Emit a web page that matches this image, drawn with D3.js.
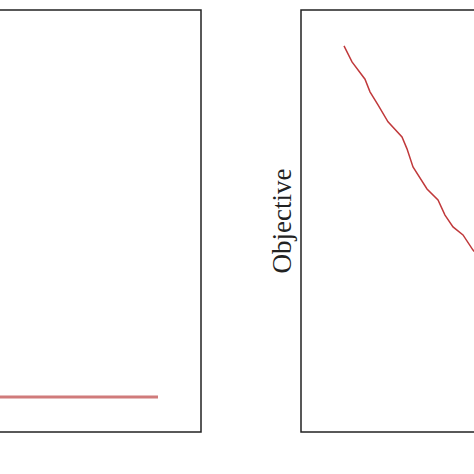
<!DOCTYPE html>
<html><head><meta charset="utf-8">
<script src="https://cdn.jsdelivr.net/npm/d3@7"></script>
<style>body{margin:0;background:#fff}</style></head>
<body><div id="chart"></div>
<script>
// left panel: flat series
const leftX = [-5, 78.5];
const leftY = [8.3, 8.3];
// right panel: decreasing objective
const rightX = [21.5, 25.5, 32, 34.5, 38.5, 43.5, 50.5, 53, 56, 63, 68.5, 72, 76, 81, 86, 92];
const rightY = [91.5, 87.7, 83.6, 80.6, 77.5, 73.5, 69.9, 67.1, 62.8, 57.6, 55, 51.4, 48.6, 46.7, 43.1, 40.2];

const width = 474, height = 474;
const svg = d3.select('#chart').append('svg')
    .attr('width', width).attr('height', height);

const y = d3.scaleLinear().domain([0, 100]).range([432, 10]);
const xL = d3.scaleLinear().domain([0, 100]).range([1, 201]);
const xR = d3.scaleLinear().domain([0, 100]).range([301, 501]);

function frame(x0, x1) {
    svg.append('rect')
        .attr('x', x0).attr('y', y(100))
        .attr('width', x1 - x0).attr('height', y(0) - y(100))
        .attr('fill', 'none').attr('stroke', '#222').attr('stroke-width', 1.5);
}
frame(xL(-20), xL(100));
frame(xR(0), xR(100));

svg.append('path')
    .datum(leftX.map((d, i) => [d, leftY[i]]))
    .attr('d', d3.line().x(d => xL(d[0])).y(d => y(d[1])))
    .attr('fill', 'none').attr('stroke', '#d07b7b').attr('stroke-width', 3);

svg.append('path')
    .datum(rightX.map((d, i) => [d, rightY[i]]))
    .attr('d', d3.line().x(d => xR(d[0])).y(d => y(d[1])))
    .attr('fill', 'none').attr('stroke', '#c0393b').attr('stroke-width', 1.5);

svg.append('text')
    .attr('transform', `translate(291,${y(50)}) rotate(-90)`)
    .attr('text-anchor', 'middle')
    .attr('font-family', 'Liberation Serif, serif')
    .attr('font-size', 27)
    .attr('fill', '#222')
    .text('Objective');
</script></body></html>
